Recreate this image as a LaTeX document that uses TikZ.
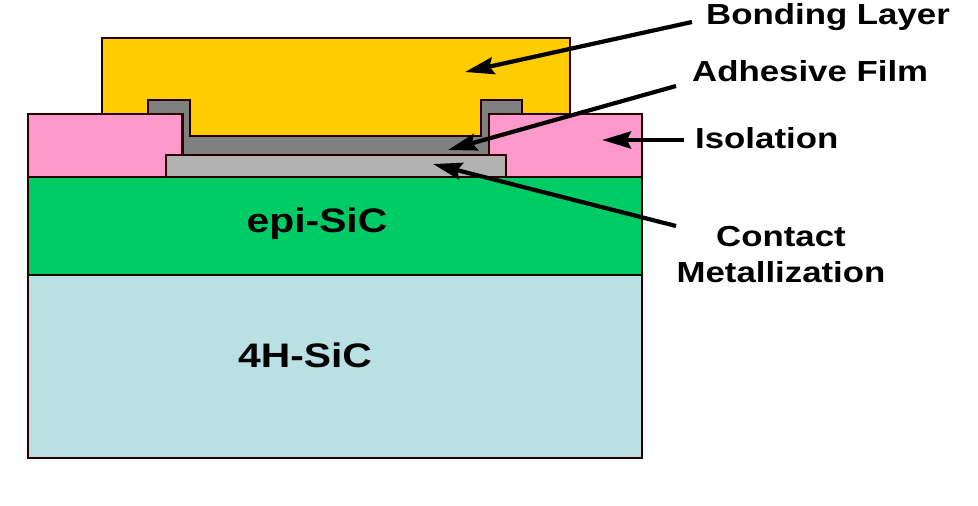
\documentclass[tikz,border=0pt]{standalone}
\usepackage{fontspec}
\setmainfont{Liberation Sans}
\newfontfamily\labelfont[FakeStretch=1.2]{Liberation Sans}
\usetikzlibrary{arrows.meta}
\definecolor{bondcolor}{HTML}{FFCC00}
\definecolor{filmcolor}{HTML}{808080}
\definecolor{contactcolor}{HTML}{B2B2B2}
\definecolor{isocolor}{HTML}{FF99CC}
\definecolor{epicolor}{HTML}{00CC66}
\definecolor{subcolor}{HTML}{B9E0E3}
\tikzset{
  layer/.style={draw=black!85!red,line width=2.4pt,line join=miter},
  pointer/.style={draw=black,line width=4.2pt,-{Stealth[length=29pt,width=17pt,inset=4pt]}},
  tag/.style={font=\labelfont\bfseries\fontsize{29}{36}\selectfont,text=black,inner sep=0pt,align=center},
  bigtag/.style={tag,font=\labelfont\bfseries\fontsize{34}{40}\selectfont}
}
\begin{document}
\begin{tikzpicture}[scale=1.000000,x=1pt,y=-1pt]
\useasboundingbox (0,0) rectangle (978,506);
\fill[white] (0,0) rectangle (978,506);
% Drawing the stack from the bottom up
% Substrate and epi
\draw[layer,fill=subcolor] (28,275) rectangle (642,458);
\draw[layer,fill=epicolor] (28,177) rectangle (642,275);
% Bonding layer
\draw[layer,fill=bondcolor] (102,136) -- (102,38) -- (570,38) -- (570,136) -- cycle;
% Adhesive film with its two raised ends
\draw[layer,fill=filmcolor] (148,114) -- (148,100) -- (190,100) -- (190,136) -- (481,136) -- (481,100) -- (522,100) -- (522,114) -- (489,114) -- (489,155) -- (183,155) -- (183,114) -- cycle;
% Contact metallization
\draw[layer,fill=contactcolor] (166,177) -- (166,155) -- (506,155) -- (506,177) -- cycle;
% Isolation, left and right
\draw[layer,fill=isocolor] (28,177) -- (28,114) -- (182,114) -- (182,155) -- (166,155) -- (166,177) -- cycle;
\draw[layer,fill=isocolor] (642,177) -- (642,114) -- (489,114) -- (489,155) -- (506,155) -- (506,177) -- cycle;
% Done with layers; drawing labels
\node[bigtag,anchor=base] (epi) at (317,232) {epi-SiC};
\node[bigtag,anchor=base] (sub) at (305,367) {4H-SiC};
\node[tag,anchor=base west] (bonding) at (706,24) {Bonding Layer};
\node[tag,anchor=base west] (adhesive) at (692,81) {Adhesive Film};
\node[tag,anchor=base west] (isolation) at (695,148) {Isolation};
\node[tag] (contact) at (781,255) {Contact\\Metallization};
% Done with labels; drawing pointers
\coordinate (bondingtip) at (465,72);
\coordinate (adhesivetip) at (448,150);
\coordinate (isolationtip) at (602,140);
\coordinate (contacttip) at (433,164);
\coordinate (bondingend) at (692,22);
\coordinate (adhesiveend) at (676,86);
\coordinate (isolationend) at (684,140);
\coordinate (contactend) at (676,226);
\draw[pointer] (bondingend) -- (bondingtip);
\draw[pointer] (adhesiveend) -- (adhesivetip);
\draw[pointer] (isolationend) -- (isolationtip);
\draw[pointer] (contactend) -- (contacttip);
\end{tikzpicture}
\end{document}
